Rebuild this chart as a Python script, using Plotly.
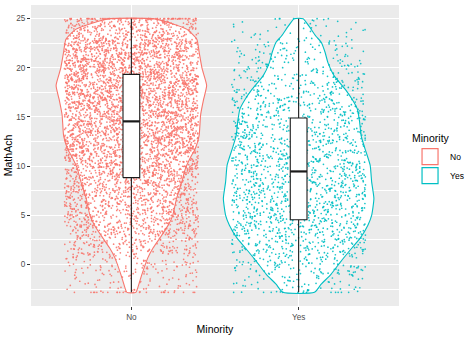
import math
import plotly.graph_objects as go

# ---------------- data ----------------
groups = ["No", "Yes"]
group_pos = [1, 2]
colors = ["#F8766D", "#00BFC4"]

# violin outline: y levels and density scaled to max = 1
no_violin_y = [-2.83, -2.0, -1.0, 0.7, 1.7, 2.7, 4.0, 5.0, 6.7, 8.4, 9.8, 10.8, 11.8,
               13.1, 15.2, 16.8, 18.2, 19.9, 21.6, 22.9, 23.9, 24.6, 24.99]
no_violin_d = [0.06, 0.10, 0.14, 0.22, 0.29, 0.38, 0.49, 0.55, 0.60, 0.67, 0.72, 0.78, 0.85,
               0.90, 0.92, 0.96, 1.00, 0.94, 0.90, 0.87, 0.74, 0.49, 0.29]
yes_violin_y = [-2.83, -2.0, -1.0, 0.3, 1.7, 2.7, 4.0, 5.0, 6.7, 8.4, 10.1, 11.8, 13.1,
                14.5, 15.8, 16.8, 17.8, 19.2, 20.5, 21.6, 22.6, 23.2, 24.2, 24.99]
yes_violin_d = [0.21, 0.30, 0.43, 0.56, 0.71, 0.82, 0.92, 0.97, 1.00, 0.97, 0.95, 0.88, 0.83,
                0.81, 0.78, 0.71, 0.62, 0.47, 0.39, 0.35, 0.30, 0.23, 0.14, 0.06]

# boxplot statistics
box_min = [-2.832, -2.832]
box_q1 = [8.83, 4.55]
box_median = [14.55, 9.46]
box_q3 = [19.33, 14.89]
box_max = [24.993, 24.993]

# number of students per MathAch bin (jittered points)
bin_edges = [-2.83, -1, 1, 3, 5, 7, 9, 11, 13, 15, 17, 19, 21, 23, 24.99]
no_counts = [56, 99, 191, 282, 318, 353, 417, 480, 501, 522, 537, 508, 487, 318]
yes_counts = [61, 111, 161, 200, 211, 209, 200, 184, 172, 158, 117, 86, 67, 33]
# students exactly at the floor / ceiling scores
floor_value, ceil_value = -2.832, 24.993
no_floor_ceil = [22, 60]
yes_floor_ceil = [12, 5]

y_ticks = [0, 5, 10, 15, 20, 25]

# ---------------- figure ----------------
VIOLIN_HALF = 0.45
JITTER = 0.4
BOX_W = 0.1
BOX_LINE = "#1a1a1a"

fig = go.Figure()

violins = [(no_violin_y, no_violin_d), (yes_violin_y, yes_violin_d)]
for (vy, vd), xc, col in zip(violins, group_pos, colors):
    right_x = [xc + VIOLIN_HALF * d for d in vd]
    left_x = [xc - VIOLIN_HALF * d for d in vd]
    xs = right_x + left_x[::-1] + [right_x[0]]
    ys = vy + vy[::-1] + [vy[0]]
    fig.add_trace(go.Scatter(x=xs, y=ys, mode="lines", fill="toself",
                             fillcolor="white",
                             line=dict(color=col, width=1.1, shape="spline", smoothing=0.5),
                             showlegend=False, hoverinfo="skip"))


def jitter_offset(k, seed):
    # deterministic horizontal jitter offset in [-1, 1]
    h = math.sin(k * 12.9898 + seed * 78.233) * 43758.5453
    return 2 * (h - math.floor(h)) - 1


def jitter_points(counts, extremes, xc, seed):
    xs, ys = [], []
    k = 0
    for i, n in enumerate(counts):
        lo, hi = bin_edges[i], bin_edges[i + 1]
        for j in range(n):
            k += 1
            ys.append(lo + (hi - lo) * (j + 0.5) / n)
            xs.append(xc + JITTER * jitter_offset(k, seed))
    for val, n in zip([floor_value, ceil_value], extremes):
        for j in range(n):
            k += 1
            ys.append(val)
            xs.append(xc + JITTER * jitter_offset(k, seed))
    return xs, ys


for counts, ext, xc, col, seed in [(no_counts, no_floor_ceil, 1, colors[0], 1),
                                   (yes_counts, yes_floor_ceil, 2, colors[1], 2)]:
    px_, py_ = jitter_points(counts, ext, xc, seed)
    fig.add_trace(go.Scatter(x=px_, y=py_, mode="markers",
                             marker=dict(color=col, size=1.7, opacity=0.9, line=dict(width=0)),
                             showlegend=False, hoverinfo="skip"))

# boxplots: whiskers, box, thick median
for i, xc in enumerate(group_pos):
    fig.add_trace(go.Scatter(x=[xc, xc, None, xc, xc],
                             y=[box_min[i], box_q1[i], None, box_q3[i], box_max[i]],
                             mode="lines", line=dict(color=BOX_LINE, width=1.1),
                             showlegend=False, hoverinfo="skip"))
    x0, x1 = xc - BOX_W / 2, xc + BOX_W / 2
    fig.add_trace(go.Scatter(x=[x0, x1, x1, x0, x0],
                             y=[box_q1[i], box_q1[i], box_q3[i], box_q3[i], box_q1[i]],
                             mode="lines", fill="toself", fillcolor="white",
                             line=dict(color=BOX_LINE, width=1.1),
                             showlegend=False, hoverinfo="skip"))
    fig.add_trace(go.Scatter(x=[x0, x1], y=[box_median[i]] * 2,
                             mode="lines", line=dict(color=BOX_LINE, width=2.2),
                             showlegend=False, hoverinfo="skip"))

# legend entries
for g, col in zip(groups, colors):
    fig.add_trace(go.Scatter(x=[None], y=[None], mode="markers", name=g,
                             marker=dict(symbol="square", size=16, color="white",
                                         line=dict(color=col, width=1.2))))

fig.update_layout(
    width=474, height=338,
    margin=dict(l=31, r=62, t=5, b=30),
    paper_bgcolor="white", plot_bgcolor="#EBEBEB",
    font=dict(family="Liberation Sans, Arial, sans-serif", color="black"),
    showlegend=True,
    legend=dict(title=dict(text="Minority", font=dict(size=10.5)),
                font=dict(size=8.5), x=1.03, y=0.59, xanchor="left", yanchor="top",
                itemsizing="trace", bgcolor="rgba(0,0,0,0)", tracegroupgap=0),
)
fig.update_xaxes(range=[0.4, 2.6], tickvals=group_pos, ticktext=groups,
                 showgrid=True, gridcolor="white", gridwidth=1.1, zeroline=False,
                 ticks="outside", ticklen=3, tickcolor="#333333", tickwidth=1,
                 tickfont=dict(size=8.2, color="#4D4D4D"),
                 title=dict(text="Minority", font=dict(size=10.5), standoff=4))
fig.update_yaxes(range=[-4.22, 26.38], tickvals=y_ticks,
                 showgrid=True, gridcolor="white", gridwidth=1.1, zeroline=False,
                 minor=dict(dtick=2.5, tick0=0, showgrid=True, gridcolor="white", gridwidth=0.55),
                 ticks="outside", ticklen=3, tickcolor="#333333", tickwidth=1,
                 tickfont=dict(size=8.2, color="#4D4D4D"),
                 title=dict(text="MathAch", font=dict(size=10.5), standoff=1))

fig.write_html("out.html")
